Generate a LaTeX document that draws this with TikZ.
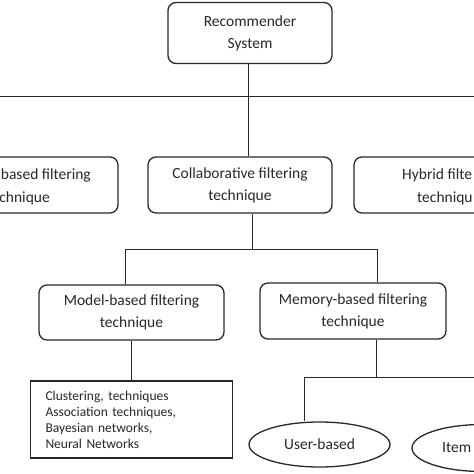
\documentclass[tikz,border=0pt]{standalone}
\usepackage{fontspec}
\setmainfont{Carlito}
\usetikzlibrary{shapes.geometric}
\definecolor{inkgrey}{RGB}{40,40,40}
\tikzset{
  tech/.style={rounded corners=8pt,draw=inkgrey,line width=1.3pt,align=center,
               minimum width=184pt,minimum height=56pt,inner sep=0pt,
               font=\fontsize{15.5}{22}\selectfont,text=inkgrey},
  algo/.style={draw=inkgrey,line width=1.3pt,align=left,text width=172pt,
               minimum height=77pt,inner xsep=15pt,inner ysep=0pt,
               font=\fontsize{13.5}{16}\selectfont,text=inkgrey},
  kind/.style={ellipse,draw=inkgrey,line width=1.3pt,minimum width=141pt,
               minimum height=45pt,inner sep=0pt,
               font=\fontsize{15.5}{22}\selectfont,text=inkgrey},
  frag/.style={inner sep=0pt,font=\fontsize{15.5}{22}\selectfont,text=inkgrey},
  link/.style={draw=inkgrey,line width=1pt},
}
\begin{document}
\begin{tikzpicture}[x=1pt,y=-1pt]
  \useasboundingbox (0,0) rectangle (474,474);
  \fill[white] (0,0) rectangle (474,474);
  \clip (0,0) rectangle (474,474);
  % top
  \node[tech,minimum width=164pt,minimum height=61pt] (rs) at (250,33)
    {Recommender\\System};
  \coordinate (hl) at (0,96);
  \coordinate (hr) at (474,96);
  % middle row
  \node[tech,minimum width=220pt] (cb) at (8,185) {};
  \node[frag,anchor=east] (cbt1) at (91,175) {based filtering};
  \node[frag,anchor=east] (cbt2) at (50,198) {chnique};
  \node[tech] (cf) at (240,185) {Collaborative filtering\\technique};
  \node[tech,minimum width=220pt] (hy) at (464,185) {};
  \node[frag,anchor=west] (hyt1) at (402,175) {Hybrid filte};
  \node[frag,anchor=west] (hyt2) at (417,198) {techniqu};
  % lower row
  \coordinate (fork) at (252,249);
  \node[tech,minimum width=185pt,minimum height=55pt] (model) at (131.5,312.5)
    {Model-based filtering\\technique};
  \node[tech,minimum width=186pt] (memory) at (353,311)
    {Memory-based filtering\\technique};
  \node[algo] (algo) at (131.5,419.5)
    {Clustering, techniques\\Association techniques,\\Bayesian networks,\\Neural Networks};
  \coordinate (fr) at (474,377);
  \node[kind] (user) at (319.5,444.5) {User-based};
  \node[kind,minimum height=47pt] (item) at (482.5,448) {};
  \node[frag,anchor=west] (itemt) at (442,448) {Item};
  % connectors
  \draw[link] (hl) -- (hr);
  \draw[link] ([xshift=-2pt]rs.south) -- ([xshift=-2pt]rs.south |- cf.north);
  \draw[link] (cf.south -| fork) -- (fork);
  \draw[link] ([xshift=-6pt]model.north) -- ([xshift=-6pt]model.north |- fork)
    -- ([xshift=24pt]memory.north |- fork) -- ([xshift=24pt]memory.north);
  \draw[link] (model.south) -- (algo.north);
  \draw[link] ([xshift=23pt]memory.south) -- ([xshift=23pt]memory.south |- fr);
  \draw[link] ([xshift=-15.5pt]user.north) |- (fr);
\end{tikzpicture}
\end{document}
